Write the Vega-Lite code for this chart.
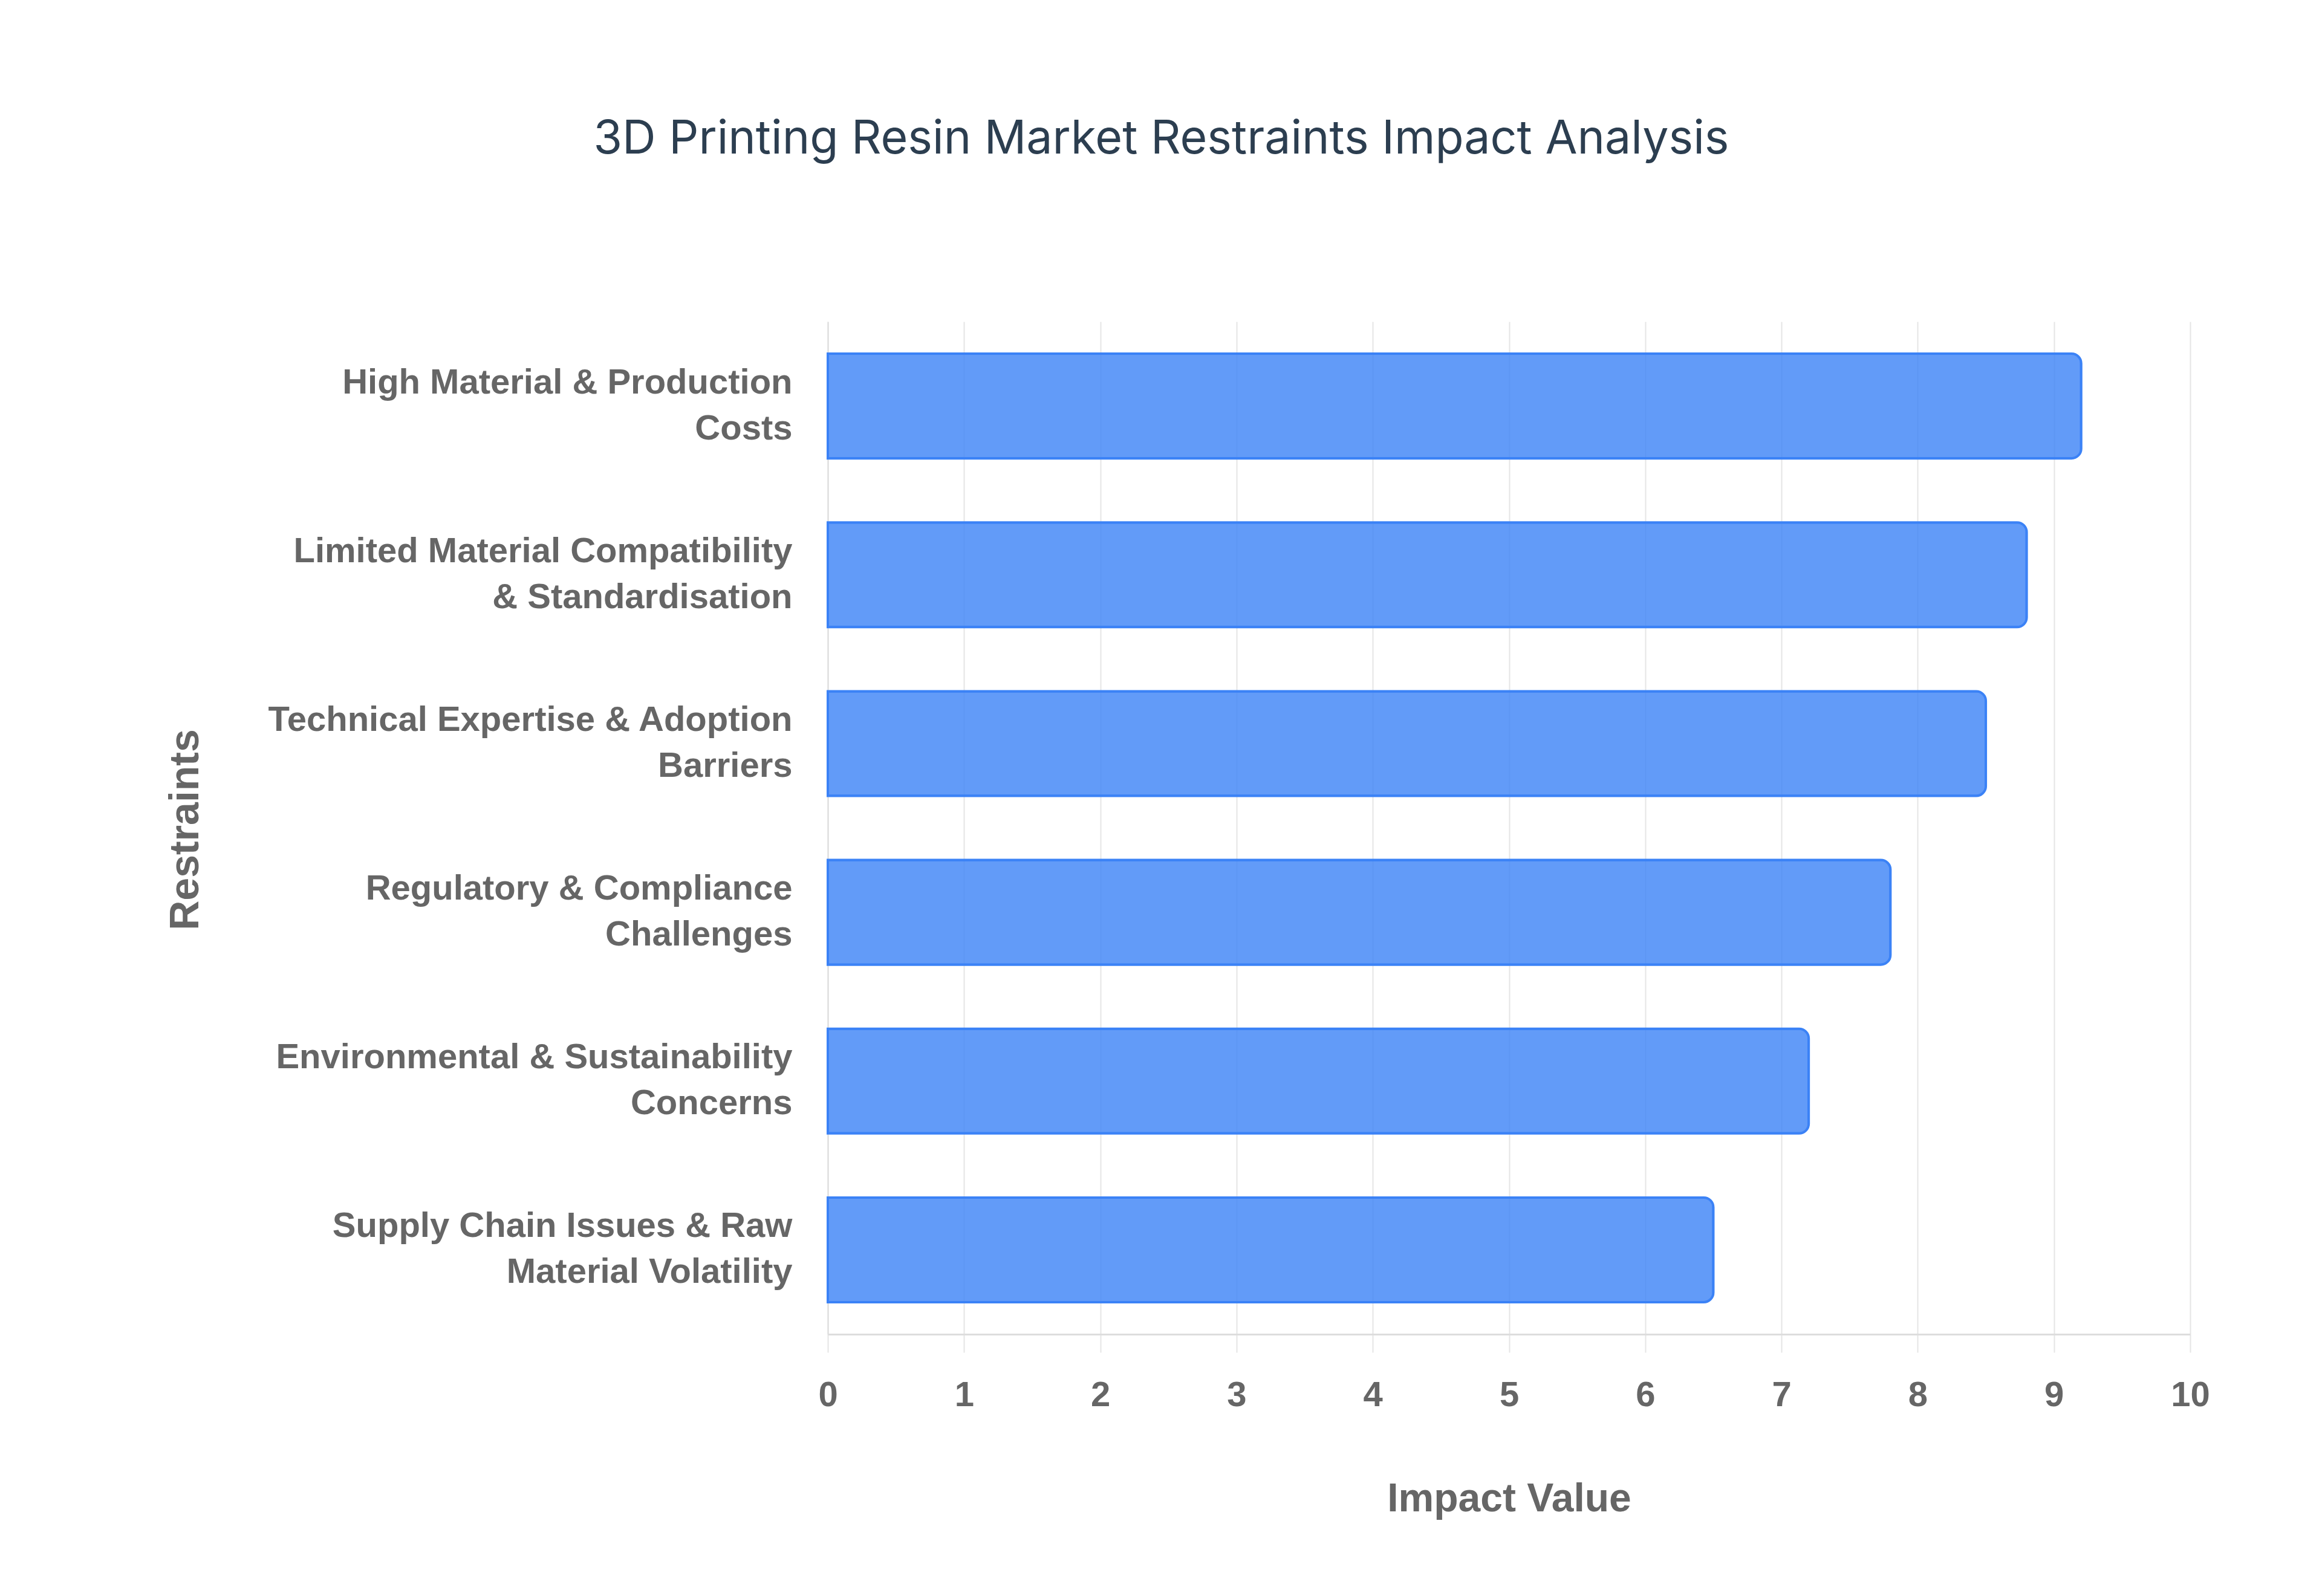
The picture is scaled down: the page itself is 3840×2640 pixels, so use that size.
{
  "$schema": "https://vega.github.io/schema/vega-lite/v6.json",
  "autosize": {"type": "none"},
  "padding": {"left": 1369, "top": 532, "right": 218, "bottom": 433},
  "width": 2253,
  "height": 1675,
  "background": "white",
  "title": {
    "text": "3D Printing Resin Market Restraints Impact Analysis",
    "anchor": "middle",
    "frame": "group",
    "dx": -575,
    "offset": 262,
    "font": "Inter",
    "fontSize": 77,
    "fontWeight": "normal",
    "color": "#2c3e50"
  },
  "data": {
    "values": [
      {"restraint": "High Material & Production Costs", "impact": 9.2},
      {"restraint": "Limited Material Compatibility & Standardisation", "impact": 8.8},
      {"restraint": "Technical Expertise & Adoption Barriers", "impact": 8.5},
      {"restraint": "Regulatory & Compliance Challenges", "impact": 7.8},
      {"restraint": "Environmental & Sustainability Concerns", "impact": 7.2},
      {"restraint": "Supply Chain Issues & Raw Material Volatility", "impact": 6.5}
    ]
  },
  "mark": {
    "type": "bar",
    "fill": "#3B82F6",
    "fillOpacity": 0.8,
    "stroke": "#3B82F6",
    "strokeWidth": 4,
    "cornerRadiusEnd": 16
  },
  "encoding": {
    "y": {
      "field": "restraint",
      "type": "nominal",
      "sort": null,
      "scale": {"paddingInner": 0.38, "paddingOuter": 0.19},
      "axis": {
        "title": "Restraints",
        "titleFont": "Liberation Sans",
        "titleFontSize": 68,
        "titleFontWeight": "bold",
        "titleColor": "#666666",
        "titleX": -1062,
        "titleY": 840,
        "titleBaseline": "middle",
        "titleAngle": -90,
        "labelFont": "Liberation Sans",
        "labelFontSize": 58,
        "labelFontWeight": "bold",
        "labelColor": "#666666",
        "labelLineHeight": 76,
        "labelPadding": 59,
        "labelOffset": -38,
        "labelLimit": 1200,
        "labelBaseline": "middle",
        "labelExpr": "datum.label == 'High Material & Production Costs' ? ['High Material & Production', 'Costs'] : datum.label == 'Limited Material Compatibility & Standardisation' ? ['Limited Material Compatibility', '& Standardisation'] : datum.label == 'Technical Expertise & Adoption Barriers' ? ['Technical Expertise & Adoption', 'Barriers'] : datum.label == 'Regulatory & Compliance Challenges' ? ['Regulatory & Compliance', 'Challenges'] : datum.label == 'Environmental & Sustainability Concerns' ? ['Environmental & Sustainability', 'Concerns'] : ['Supply Chain Issues & Raw', 'Material Volatility']",
        "ticks": false,
        "grid": false,
        "domainColor": "#dddddd",
        "domainWidth": 2
      }
    },
    "x": {
      "field": "impact",
      "type": "quantitative",
      "scale": {"domain": [0, 10], "nice": false},
      "axis": {
        "title": "Impact Value",
        "titleFont": "Liberation Sans",
        "titleFontSize": 66,
        "titleFontWeight": "bold",
        "titleColor": "#666666",
        "titleBaseline": "middle",
        "titleY": 272,
        "values": [0, 1, 2, 3, 4, 5, 6, 7, 8, 9, 10],
        "format": "d",
        "labelFont": "Liberation Sans",
        "labelFontSize": 58,
        "labelFontWeight": "bold",
        "labelColor": "#666666",
        "labelBaseline": "middle",
        "labelPadding": 71,
        "labelFlush": false,
        "tickSize": 30,
        "tickColor": "#e5e5e5",
        "tickWidth": 2,
        "grid": true,
        "gridColor": "#e5e5e5",
        "gridWidth": 2,
        "domainColor": "#dddddd",
        "domainWidth": 3
      }
    }
  },
  "config": {
    "view": {"stroke": null}
  }
}
